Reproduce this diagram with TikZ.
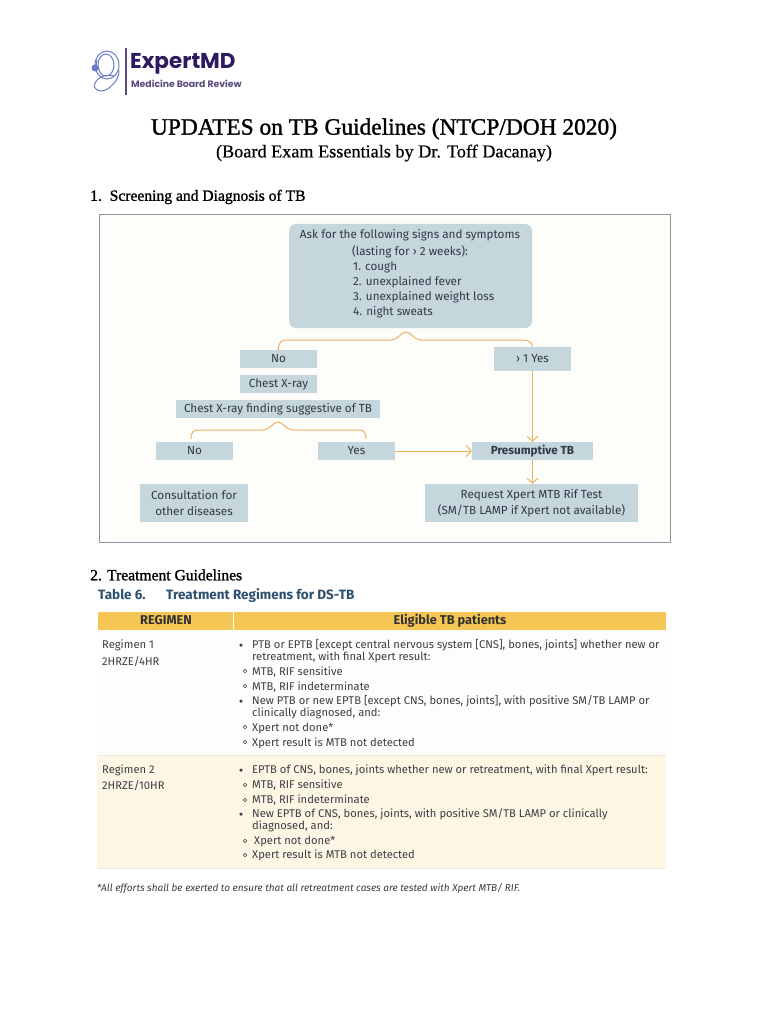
\documentclass[tikz,border=0pt]{standalone}
\usepackage{fontspec}
\setmainfont{Liberation Serif}
\newfontfamily\heavyserif[FakeBold=1.3]{Liberation Serif}
\newfontfamily\midserif[FakeBold=0.5]{Liberation Serif}
\newfontfamily\din{Fira Sans}
\newfontfamily\pop{Poppins}
\usetikzlibrary{arrows.meta}
\definecolor{boxfill}{HTML}{C6D6DD}
\definecolor{boxtext}{HTML}{2F3B44}
\definecolor{conn}{HTML}{EDB05F}
\definecolor{framec}{HTML}{8C959C}
\definecolor{framefill}{HTML}{FDFDFA}
\definecolor{band}{HTML}{F6C654}
\definecolor{creamrow}{HTML}{FEF6E4}
\definecolor{paperrow}{HTML}{FEFDFB}
\definecolor{rowline}{HTML}{EFE9DC}
\definecolor{tabtitle}{HTML}{2C5170}
\definecolor{tabtext}{HTML}{3A3F44}
\definecolor{logoblue}{HTML}{6C7CC4}
\definecolor{logodark}{HTML}{2E1A5E}
\definecolor{logosub}{HTML}{5A4C7E}
\tikzset{
  flowbox/.style={fill=boxfill,inner sep=0pt,text=boxtext,align=center,font=\din\fontsize{11.7}{15.5}\selectfont},
  boxline/.style={inner sep=0pt,text=boxtext,text height=8.5pt,text depth=2.5pt,font=\din\fontsize{11.7}{15}\selectfont},
  connline/.style={draw=conn,line width=1pt},
  connarrow/.style={connline,-{Straight Barb[length=5pt,width=11pt]}},
  tabline/.style={inner sep=0pt,anchor=west,text=tabtext,text height=8pt,text depth=2pt,font=\din\fontsize{11.2}{13}\selectfont},
  dotbullet/.style={circle,fill=tabtext,inner sep=0pt,minimum size=3.5pt},
  ringbullet/.style={circle,draw=tabtext,line width=0.5pt,inner sep=0pt,minimum size=3.5pt},
  heading/.style={inner sep=0pt,anchor=west,font=\heavyserif\fontsize{15.6}{17}\selectfont},
  headcell/.style={inner sep=0pt,text=black!80,font=\din\bfseries\fontsize{12.8}{14}\selectfont},
  tabhead/.style={inner sep=0pt,anchor=west,text=tabtitle,text height=9pt,text depth=3pt,font=\din\bfseries\fontsize{13.5}{15}\selectfont},
}
\newcommand{\bodyline}[3]{\node[tabline] (#1) at (252,#2) {#3};}
\begin{document}
\begin{tikzpicture}[x=1pt,y=-1pt]
\useasboundingbox (0,0) rectangle (768,1024);
\fill[white] (0,0) rectangle (768,1024);
% logo
\draw[logoblue,line width=1pt] (107,65) ellipse (12 and 14);
\draw[logoblue,line width=1pt] (106,65) ellipse (8 and 11);
\draw[logoblue,line width=1pt] (114,76) .. controls (100,72) and (92,84) .. (95,88) .. controls (98,92) and (104,92) .. (109,88) .. controls (116,82) and (119,78) .. (119,70);
\draw[logoblue,line width=1pt] (97,60) -- (96,66);
\node[circle,fill=logoblue,inner sep=0pt,minimum size=7pt] (logodot) at (95,68) {};
\draw[logosub,line width=1.1pt] (126,48) -- (126,95);
\node[inner sep=0pt,anchor=west,text=logodark,font=\pop\bfseries\fontsize{21.5}{24}\selectfont] (logotext) at (130,64) {ExpertMD};
\node[inner sep=0pt,anchor=west,text=logosub,font=\pop\bfseries\fontsize{9.3}{11}\selectfont] (logosubt) at (131,84) {Medicine Board Review};
% titles
\node[inner sep=0pt,font=\heavyserif\fontsize{23.4}{26}\selectfont] (title) at (384,129) {UPDATES on TB Guidelines (NTCP/DOH 2020)};
\node[inner sep=0pt,font=\midserif\fontsize{18.2}{20}\selectfont] (subtitle) at (384,153) {(Board Exam Essentials by Dr. Toff Dacanay)};
\node[heading] (sec1) at (90,197) {1.\ \ Screening and Diagnosis of TB};
\node[heading] (sec2) at (90,575) {2. Treatment Guidelines};
% flow frame
\draw[draw=framec,fill=framefill,line width=0.9pt] (99,214) rectangle (670,542);
\node[fill=boxfill,rounded corners=7pt,minimum width=243pt,minimum height=104pt,inner sep=0pt] (ask) at (410.5,276) {};
\node[boxline] (ask1) at (410,236) {Ask for the following signs and symptoms};
\node[boxline] (ask2) at (410,252) {(lasting for › 2 weeks):};
\node[boxline,anchor=west] (ask3) at (353,267) {1. cough};
\node[boxline,anchor=west] (ask4) at (353,282) {2. unexplained fever};
\node[boxline,anchor=west] (ask5) at (353,297) {3. unexplained weight loss};
\node[boxline,anchor=west] (ask6) at (353,312) {4. night sweats};
\node[flowbox,minimum width=77pt,minimum height=18pt] (noa) at (278.5,359) {No};
\node[flowbox,minimum width=77pt,minimum height=18pt] (xray) at (278.5,384) {Chest X-ray};
\node[flowbox,minimum width=204pt,minimum height=18pt] (finding) at (278,409) {Chest X-ray finding suggestive of TB};
\node[flowbox,minimum width=77pt,minimum height=18pt] (nob) at (194.5,451) {No};
\node[flowbox,minimum width=77pt,minimum height=18pt] (yesb) at (356.5,451) {Yes};
\node[flowbox,minimum width=108pt,minimum height=38pt] (consult) at (194,503) {Consultation for\\other diseases};
\node[flowbox,minimum width=77pt,minimum height=24pt] (yesa) at (532.5,359) {› 1 Yes};
\node[flowbox,minimum width=121pt,minimum height=18pt,font=\din\bfseries\fontsize{11.7}{15}\selectfont] (presumptive) at (532.5,451) {Presumptive TB};
\node[flowbox,minimum width=213pt,minimum height=38pt] (request) at (531.5,503) {Request Xpert MTB Rif Test\\(SM/TB LAMP if Xpert not available)};
% braces
\coordinate (peaka) at (406,332);
\coordinate (peakb) at (278,422);
\coordinate (nobtop) at (191,439);
\coordinate (yesbtop) at (366,439);
\draw[connline] (noa.north) .. controls (278.5,342) and (281,340) .. (288,340) -- (391,340) .. controls (398,340) and (401,332) .. (peaka) .. controls (411,332) and (414,340) .. (421,340) -- (522,340) .. controls (529,340) and (532.5,343) .. (yesa.north);
\draw[connline] (nobtop) .. controls (191,432) and (193,430) .. (199,430) -- (263,430) .. controls (270,430) and (273,422) .. (peakb) .. controls (283,422) and (286,430) .. (293,430) -- (358,430) .. controls (364,430) and (366,432) .. (yesbtop);
% arrows
\draw[connarrow] (yesa.south) -- (presumptive.north);
\draw[connarrow] (yesb.east) -- (presumptive.west);
\draw[connarrow] (presumptive.south) -- (request.north -| presumptive.south);
% table
\node[tabhead] (tabno) at (98,596) {Table 6.};
\node[tabhead] (tabname) at (166,596) {Treatment Regimens for DS-TB};
\fill[paperrow] (98,630) rectangle (666,755);
\fill[creamrow] (97,755) rectangle (666,868);
\fill[band] (98,612) rectangle (666,630);
\draw[white,line width=1pt] (233,612) -- (233,630);
\draw[rowline,line width=0.8pt] (97,755) -- (666,755);
\draw[rowline,line width=0.8pt] (97,868) -- (666,868);
\node[headcell] (hreg) at (166,620.5) {REGIMEN};
\node[headcell] (hel) at (450,620.5) {Eligible TB patients};
\node[tabline] (r1a) at (102,645) {Regimen 1};
\node[tabline] (r1b) at (102,662) {2HRZE/4HR};
\bodyline{a1}{645}{PTB or EPTB [except central nervous system [CNS], bones, joints] whether new or}
\bodyline{a2}{657}{retreatment, with final Xpert result:}
\bodyline{a3}{672}{MTB, RIF sensitive}
\bodyline{a4}{687}{MTB, RIF indeterminate}
\bodyline{a5}{701}{New PTB or new EPTB [except CNS, bones, joints], with positive SM/TB LAMP or}
\bodyline{a6}{713}{clinically diagnosed, and:}
\bodyline{a7}{728}{Xpert not done*}
\bodyline{a8}{743}{Xpert result is MTB not detected}
\node[dotbullet] (ba1) at (241,645) {};
\node[ringbullet] (ba3) at (245,671) {};
\node[ringbullet] (ba4) at (245,686) {};
\node[dotbullet] (ba5) at (241,701) {};
\node[ringbullet] (ba7) at (245,727) {};
\node[ringbullet] (ba8) at (245,742) {};
\node[tabline] (r2a) at (102,770) {Regimen 2};
\node[tabline] (r2b) at (102,786) {2HRZE/10HR};
\bodyline{c1}{770}{EPTB of CNS, bones, joints whether new or retreatment, with final Xpert result:}
\bodyline{c2}{785}{MTB, RIF sensitive}
\bodyline{c3}{800}{MTB, RIF indeterminate}
\bodyline{c4}{814}{New EPTB of CNS, bones, joints, with positive SM/TB LAMP or clinically}
\bodyline{c5}{826}{diagnosed, and:}
\node[tabline] (c6) at (254,841) {Xpert not done*};
\bodyline{c7}{855}{Xpert result is MTB not detected}
\node[dotbullet] (bc1) at (241,770) {};
\node[ringbullet] (bc2) at (245,785) {};
\node[ringbullet] (bc3) at (245,800) {};
\node[dotbullet] (bc4) at (241,814) {};
\node[ringbullet] (bc6) at (245,841) {};
\node[ringbullet] (bc7) at (245,855) {};
\node[inner sep=0pt,anchor=west,text=tabtext,font=\din\itshape\fontsize{10}{12}\selectfont] (foot) at (97,889) {*All efforts shall be exerted to ensure that all retreatment cases are tested with Xpert MTB/ RIF.};
\end{tikzpicture}
\end{document}
